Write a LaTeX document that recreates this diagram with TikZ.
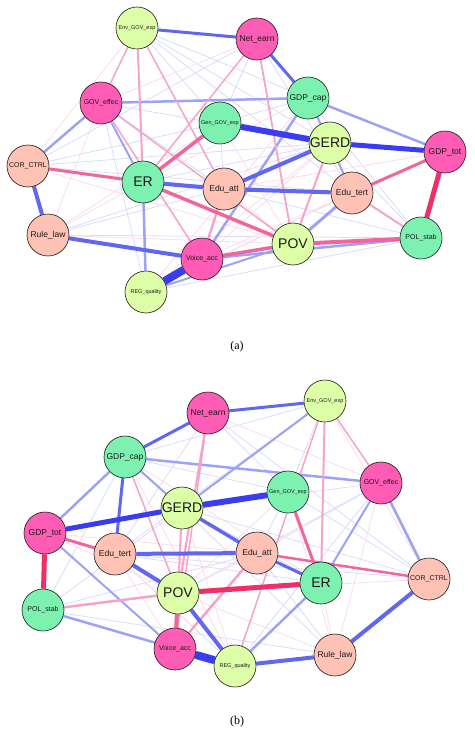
\documentclass[tikz,border=0pt]{standalone}
\usepackage{fontspec}
\setmainfont{Liberation Serif}
\setsansfont{Liberation Sans}
\usepackage{tikz}
\usetikzlibrary{backgrounds}
\definecolor{INK}{HTML}{1A1A1A}
\definecolor{PINK}{HTML}{FF5CB6}
\definecolor{LIME}{HTML}{DDFFA8}
\definecolor{MINT}{HTML}{7DF2B0}
\definecolor{SALMON}{HTML}{FFC2B4}
\definecolor{BL1}{HTML}{3A3CF0}
\definecolor{BL2}{HTML}{6068F2}
\definecolor{BL3}{HTML}{9CA2F6}
\definecolor{BL4}{HTML}{DADCFB}
\definecolor{PK1}{HTML}{F02F66}
\definecolor{PK2}{HTML}{F0669C}
\definecolor{PK3}{HTML}{F5A3C6}
\definecolor{PK4}{HTML}{FBDCEA}

\begin{document}
\begin{tikzpicture}[x=1pt,y=-1pt]
\tikzset{nd/.style={circle,draw=INK,line width=0.6pt,minimum size=42pt,inner sep=0pt,text=INK,font=\sffamily},
 pk/.style={nd,fill=PINK},gy/.style={nd,fill=LIME},mt/.style={nd,fill=MINT},sa/.style={nd,fill=SALMON},
 fbig/.style={font=\sffamily\fontsize{14}{16}\selectfont},fmid/.style={font=\sffamily\fontsize{8.5}{10}\selectfont},
 fsml/.style={font=\sffamily\fontsize{7}{8}\selectfont},ftin/.style={font=\sffamily\fontsize{5.5}{6}\selectfont},
 pA/.style={line width=#1pt,BL1},pB/.style={line width=#1pt,BL2},pC/.style={line width=#1pt,BL3},
 nA/.style={line width=#1pt,PK1},nB/.style={line width=#1pt,PK2},nC/.style={line width=#1pt,PK3},
 pF/.style={line width=0.8pt,BL4},nF/.style={line width=0.8pt,PK4},captxt/.style={font=\fontsize{12}{14}\selectfont}}
\useasboundingbox (0,0) rectangle (474,733);

% (a)
\node[gy,ftin] (aEnv) at (137,28) {Env\_GOV\_exp};
\node[pk,fmid] (aNet) at (257,39) {Net\_earn};
\node[pk,fsml] (aGOVe) at (101,103) {GOV\_effec};
\node[mt,fmid] (aGDPc) at (308,98) {GDP\_cap};
\node[mt,ftin] (aGen) at (220,123) {Gen\_GOV\_exp};
\node[gy,fbig] (aGERD) at (330,143) {GERD};
\node[pk,fmid] (aGDPt) at (445,152) {GDP\_tot};
\node[sa,fsml] (aCOR) at (28,166) {COR\_CTRL};
\node[mt,fbig] (aER) at (143,182) {ER};
\node[sa,fmid] (aEduA) at (224,189) {Edu\_att};
\node[sa,fmid] (aEduT) at (352,193) {Edu\_tert};
\node[sa,fmid] (aRule) at (48,235) {Rule\_law};
\node[gy,fbig] (aPOV) at (293,244) {POV};
\node[mt,fsml] (aPOL) at (421,238) {POL\_stab};
\node[pk,fsml] (aVoice) at (202,259) {Voice\_acc};
\node[gy,ftin] (aREG) at (146,292) {REG\_quality};
\node[captxt] (aCap) at (237,347) {(a)};

\begin{scope}[on background layer]
\foreach \u/\v in {aEnv/aGen,aEnv/aGDPc,aEnv/aGERD,aEnv/aEduT,aNet/aGen,aNet/aEduT,aNet/aCOR,aGOVe/aEduA,
 aGOVe/aREG,aGen/aGDPc,aGen/aEduA,aCOR/aGERD,aCOR/aGen,aRule/aEduA,aRule/aGERD,aER/aGERD,aER/aEduT,
 aEduA/aPOL,aEduT/aREG,aGERD/aPOL,aGDPc/aPOL,aGDPc/aEduT,aREG/aPOL,aRule/aPOL,aCOR/aEduT,aGOVe/aGERD}
 \draw[pF] (\u)--(\v);
\foreach \u/\v in {aEnv/aCOR,aNet/aGOVe,aGOVe/aRule,aGen/aPOV,aGen/aRule,aCOR/aPOV,aRule/aER,aRule/aPOV,
 aER/aGDPc,aEduA/aPOV,aEduA/aGDPt,aEduT/aVoice,aGERD/aVoice,aGERD/aREG,aREG/aEduT,aGDPc/aREG,aCOR/aEduA}
 \draw[nF] (\u)--(\v);
\draw[pC=2.5] (aGOVe)--(aGDPc);
\draw[pC=2.5] (aGOVe)--(aCOR);
\draw[pC=2] (aGOVe)--(aER);
\draw[pC=2.5] (aGDPc)--(aGDPt);
\draw[pC=2] (aGDPc)--(aGERD);
\draw[pC=2] (aGERD)--(aEduT);
\draw[pC=2.5] (aGDPc)--(aVoice);
\draw[pC=3] (aEduT)--(aPOV);
\draw[pC=2.5] (aVoice)--(aPOL);
\draw[pC=2.5] (aER)--(aREG);
\draw[pC=2] (aREG)--(aPOV);
\draw[nC=2] (aEnv)--(aER);
\draw[nC=1.5] (aEnv)--(aGOVe);
\draw[nC=1.5] (aEnv)--(aEduA);
\draw[nC=2.5] (aEduA)--(aVoice);
\draw[nC=2] (aGERD)--(aPOV);
\draw[nC=1.8] (aNet)--(aPOV);
\draw[nC=1.5] (aNet)--(aER);
\draw[nC=2] (aEduT)--(aPOL);
\draw[nC=1.5] (aGOVe)--(aPOV);
\draw[nC=1.5] (aGOVe)--(aVoice);
\draw[pB=3] (aEnv)--(aNet);
\draw[pB=3] (aNet)--(aGDPc);
\draw[pB=4] (aGERD)--(aEduA);
\draw[pB=4] (aEduA)--(aEduT);
\draw[pB=4] (aER)--(aEduA);
\draw[pB=4] (aCOR)--(aRule);
\draw[pB=4] (aRule)--(aVoice);
\draw[nB=4] (aPOV)--(aPOL);
\draw[nB=3.5] (aER)--(aPOV);
\draw[nB=3.5] (aVoice)--(aPOV);
\draw[nB=3.5] (aER)--(aGen);
\draw[nB=3] (aCOR)--(aER);
\draw[nB=3] (aGDPt)--(aEduT);
\draw[nA=5] (aGDPt)--(aPOL);
\draw[pA=6] (aGen)--(aGERD);
\draw[pA=5] (aGERD)--(aGDPt);
\draw[pA=8] (aVoice)--(aREG);
\end{scope}

% (b)
\node[pk,fmid] (bNet) at (208,413) {Net\_earn};
\node[gy,ftin] (bEnv) at (325,401) {Env\_GOV\_exp};
\node[mt,fmid] (bGDPc) at (125,457) {GDP\_cap};
\node[pk,fsml] (bGOVe) at (381,483) {GOV\_effec};
\node[mt,ftin] (bGen) at (288,492) {Gen\_GOV\_exp};
\node[gy,fbig] (bGERD) at (182,508) {GERD};
\node[pk,fmid] (bGDPt) at (45,533) {GDP\_tot};
\node[sa,fmid] (bEduT) at (115,554) {Edu\_tert};
\node[sa,fmid] (bEduA) at (257,553) {Edu\_att};
\node[mt,fbig] (bER) at (321,583) {ER};
\node[sa,fsml] (bCOR) at (429,579) {COR\_CTRL};
\node[gy,fbig] (bPOV) at (178,593) {POV};
\node[mt,fsml] (bPOL) at (43,610) {POL\_stab};
\node[pk,fsml] (bVoice) at (175,649) {Voice\_acc};
\node[gy,ftin] (bREG) at (235,666) {REG\_quality};
\node[sa,fmid] (bRule) at (335,655) {Rule\_law};
\node[captxt] (bCap) at (237,722) {(b)};

\begin{scope}[on background layer]
\foreach \u/\v in {bEnv/bGen,bEnv/bGDPc,bEnv/bEduT,bNet/bGen,bNet/bEduT,bNet/bCOR,bGOVe/bEduA,
 bGOVe/bREG,bGen/bGDPc,bGen/bEduA,bCOR/bGERD,bCOR/bGen,bRule/bEduA,bRule/bGERD,bER/bGERD,bER/bEduT,
 bEduA/bPOL,bEduT/bREG,bGERD/bPOL,bGDPc/bPOL,bREG/bPOL,bRule/bPOL,bCOR/bEduT,bGOVe/bGERD,bGOVe/bPOV}
 \draw[pF] (\u)--(\v);
\foreach \u/\v in {bEnv/bCOR,bNet/bGOVe,bGOVe/bRule,bGen/bPOV,bGen/bRule,bCOR/bPOV,bRule/bER,bRule/bPOV,
 bER/bGDPc,bEduA/bPOV,bEduA/bGDPt,bEduT/bVoice,bGERD/bVoice,bGERD/bREG,bREG/bEduT,bGDPc/bREG,bGDPt/bPOV}
 \draw[nF] (\u)--(\v);
\draw[pC=2.5] (bGDPc)--(bGOVe);
\draw[pC=2.5] (bGDPc)--(bGDPt);
\draw[pC=2] (bEnv)--(bGERD);
\draw[pC=2.5] (bGOVe)--(bCOR);
\draw[pC=2] (bGOVe)--(bER);
\draw[pC=2.5] (bER)--(bREG);
\draw[pC=2.5] (bPOL)--(bREG);
\draw[pC=2] (bGDPt)--(bVoice);
\draw[pC=2] (bGDPc)--(bGERD);
\draw[nC=2.5] (bPOV)--(bPOL);
\draw[nC=2.5] (bVoice)--(bEduA);
\draw[nC=2] (bGERD)--(bPOV);
\draw[nC=2] (bNet)--(bPOV);
\draw[nC=2] (bEnv)--(bER);
\draw[nC=1.5] (bEnv)--(bREG);
\draw[nC=1.5] (bEnv)--(bGOVe);
\draw[nC=1.5] (bGDPc)--(bPOV);
\draw[nC=1.5] (bNet)--(bVoice);
\draw[pB=3] (bNet)--(bEnv);
\draw[pB=3] (bNet)--(bGDPc);
\draw[pB=4] (bEduT)--(bEduA);
\draw[pB=4] (bEduT)--(bPOV);
\draw[pB=4] (bPOV)--(bREG);
\draw[pB=4] (bREG)--(bRule);
\draw[pB=4] (bRule)--(bCOR);
\draw[pB=3] (bGDPc)--(bEduT);
\draw[pB=3.5] (bGERD)--(bEduA);
\draw[pB=3] (bEduA)--(bER);
\draw[nB=4] (bPOV)--(bVoice);
\draw[nB=3] (bGDPt)--(bEduT);
\draw[nB=3] (bGen)--(bER);
\draw[nB=2.5] (bEduA)--(bCOR);
\draw[nA=5] (bGDPt)--(bPOL);
\draw[nA=5] (bPOV)--(bER);
\draw[pA=6] (bGen)--(bGERD);
\draw[pA=5] (bGERD)--(bGDPt);
\draw[pA=8] (bVoice)--(bREG);
\end{scope}
\end{tikzpicture}
\end{document}
